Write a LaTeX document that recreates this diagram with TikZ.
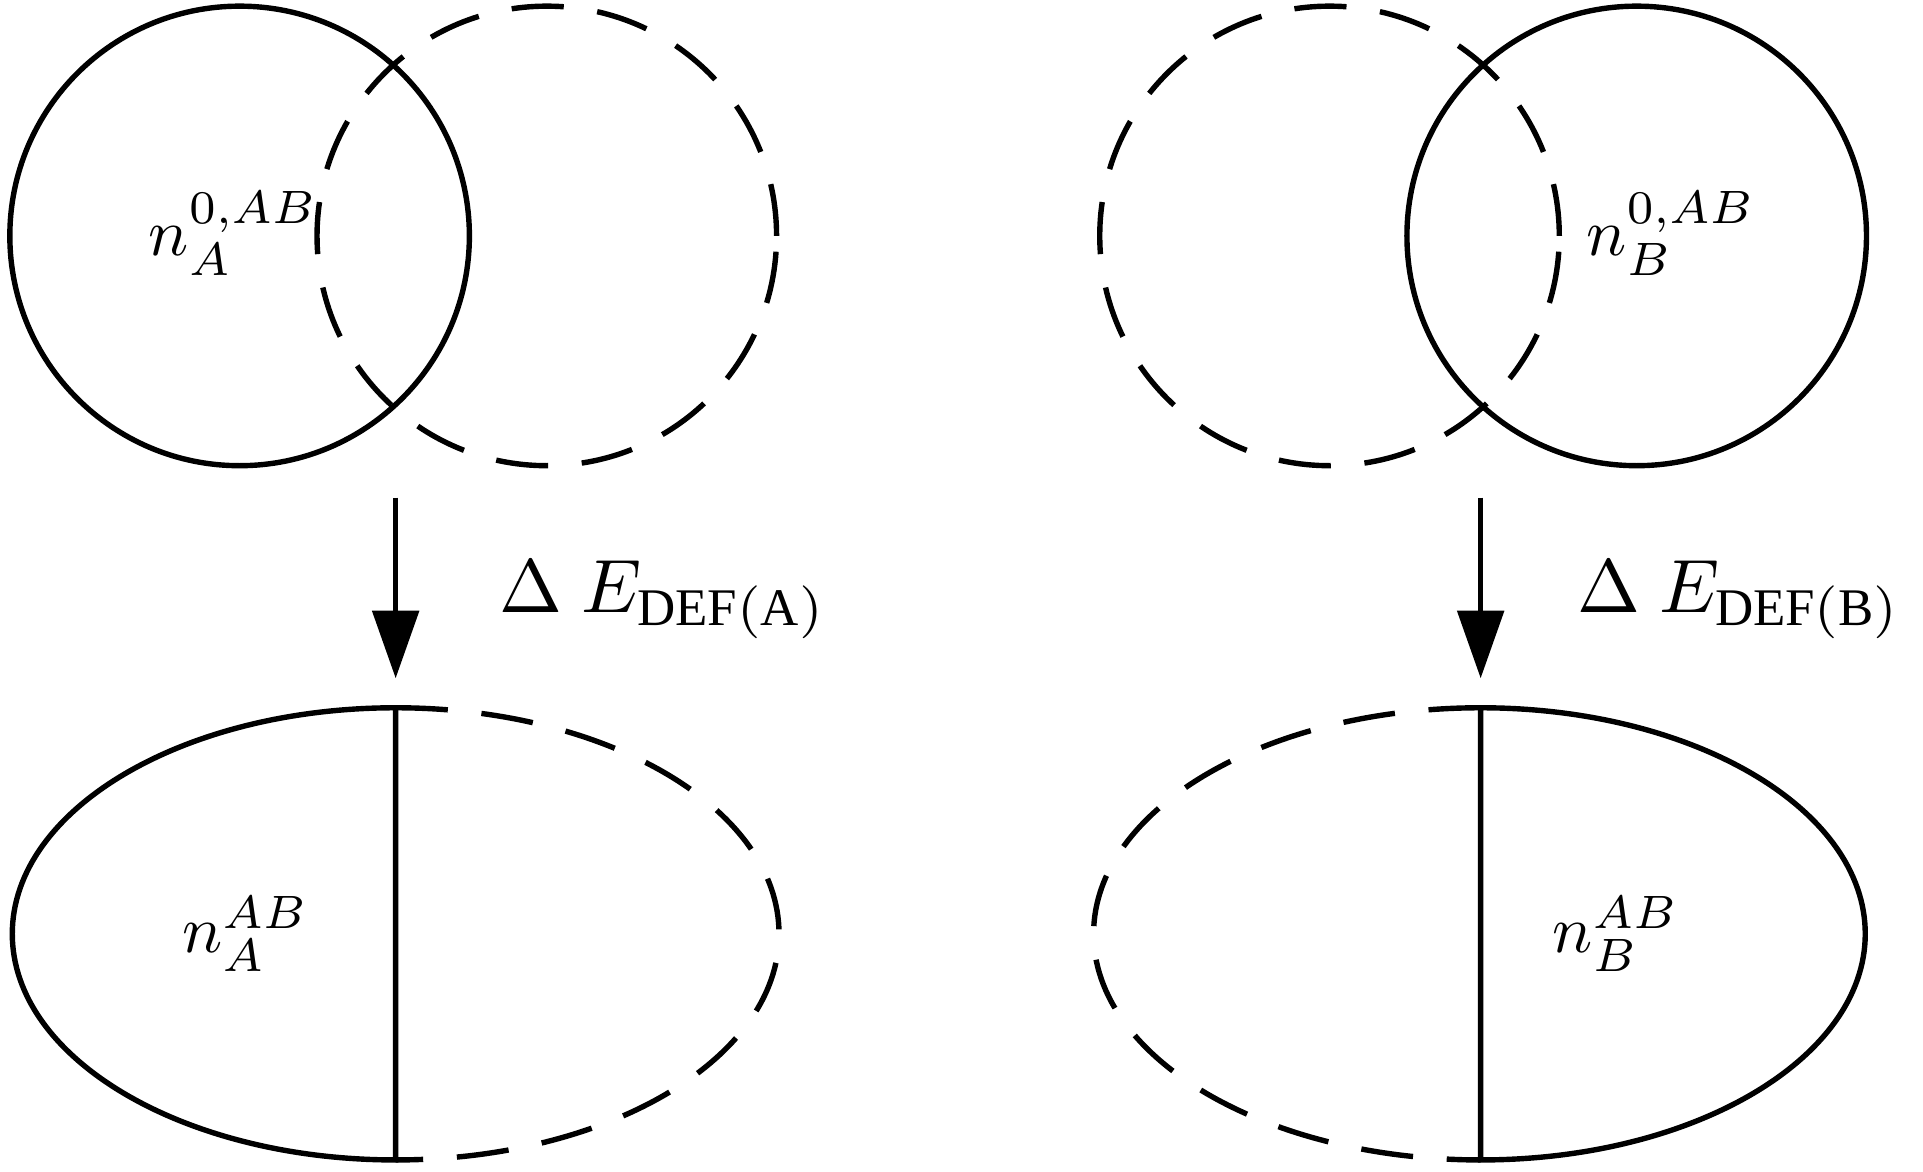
\documentclass[tikz,border=0pt]{standalone}
\usepackage{fontspec}
\setmainfont{Liberation Serif}
\usetikzlibrary{arrows.meta}
\begin{document}
\begin{tikzpicture}[x=0.02cm,y=0.02cm,
  solidl/.style={line width=2.5pt},
  dashl/.style={line width=2.5pt,dash pattern=on 0.85cm off 0.55cm},
  arr/.style={line width=2.5pt,-{Triangle[length=1.1cm,width=0.75cm]}},
  lbl/.style={scale=3.1},
  elbl/.style={scale=3.5,anchor=west}]
\useasboundingbox (0,0) rectangle (1565,-953);
% top left
\draw[dashl] (445,-192) circle (187);
\draw[solidl] (195,-192) circle (187);
\node[lbl] (tA) at (190,-190) {$n_A^{0,AB}$};
% top right
\draw[dashl] (1082,-192) circle (187);
\draw[solidl] (1332,-192) circle (187);
\node[lbl] (tB) at (1360,-190) {$n_B^{0,AB}$};
% arrows
\coordinate (a1) at (322,-405); \coordinate (a2) at (322,-552);
\coordinate (b1) at (1205,-405); \coordinate (b2) at (1205,-552);
\draw[arr] (a1) -- (a2);
\draw[arr] (b1) -- (b2);
\node[elbl] (eA) at (385,-488) {$\Delta\ E_{\mathrm{DEF(A)}}$};
\node[elbl] (eB) at (1262,-488) {$\Delta\ E_{\mathrm{DEF(B)}}$};
% bottom left
\draw[solidl] (322,-576) arc (90:270:312 and 184) -- cycle;
\draw[dashl] (322,-576) arc (90:-90:312 and 184);
\node[lbl] (bA) at (200,-760) {$n_A^{AB}$};
% bottom right
\draw[solidl] (1205,-576) arc (90:-90:313 and 184) -- cycle;
\draw[dashl] (1205,-576) arc (90:270:315 and 184);
\node[lbl] (bB) at (1315,-760) {$n_B^{AB}$};
\end{tikzpicture}
\end{document}
